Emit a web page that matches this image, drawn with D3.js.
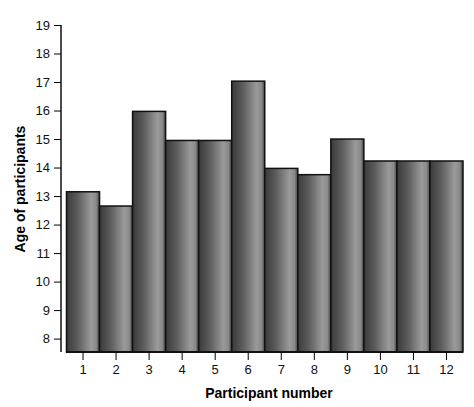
<!DOCTYPE html><html><head><script src="https://cdn.jsdelivr.net/npm/d3@7"></script>
<style>body{margin:0;background:#fff}text{font-family:"Liberation Sans",Arial,sans-serif}</style></head><body>
<script>
const categories=["1","2","3","4","5","6","7","8","9","10","11","12"];
const ages=[13.15,12.65,15.97,14.95,14.95,17.03,13.97,13.75,15.0,14.23,14.23,14.23];
const yTicks=[8,9,10,11,12,13,14,15,16,17,18,19];
const W=474,H=407;
const svg=d3.select("body").append("svg").attr("width",W).attr("height",H);
const defs=svg.append("defs");
const g=defs.append("linearGradient").attr("id","gr").attr("x1","0").attr("x2","1");
[[0,"#3a3a3a"],[0.35,"#5e5e5e"],[0.75,"#9a9a9a"],[0.9,"#8a8a8a"],[1,"#444"]].forEach(([o,c])=>g.append("stop").attr("offset",o).attr("stop-color",c));
const y=d3.scaleLinear().domain([7.53,19]).range([352,25]);
const x=d3.scaleBand().domain(categories).range([66.5,463]).padding(0);
svg.selectAll("rect.b").data(ages).enter().append("rect")
 .attr("x",(d,i)=>x(categories[i])).attr("width",x.bandwidth())
 .attr("y",d=>y(d)).attr("height",d=>y(7.53)-y(d))
 .attr("fill","url(#gr)").attr("stroke","#111").attr("stroke-width",1.5);
const ya=svg.append("g").attr("transform","translate(61,0)")
 .call(d3.axisLeft(y).tickValues(yTicks).tickSize(7).tickPadding(4));
ya.select(".domain").attr("d","M0,25V352").attr("stroke","#111").attr("stroke-width",1.5);
ya.selectAll("text").attr("font-size",13).attr("fill","#111");
svg.append("line").attr("x1",66).attr("x2",463).attr("y1",352).attr("y2",352).attr("stroke","#111").attr("stroke-width",2);
const xa=svg.append("g").attr("transform","translate(0,352)")
 .call(d3.axisBottom(x).tickSize(8).tickPadding(5));
xa.select(".domain").remove();
xa.selectAll("text").attr("font-size",13).attr("fill","#111");
svg.append("text").attr("x",269).attr("y",398).attr("text-anchor","middle").attr("font-size",14).attr("font-weight","bold").text("Participant number");
svg.append("text").attr("transform","translate(25,189) rotate(-90)").attr("text-anchor","middle").attr("font-size",14).attr("font-weight","bold").text("Age of participants");
</script></body></html>
